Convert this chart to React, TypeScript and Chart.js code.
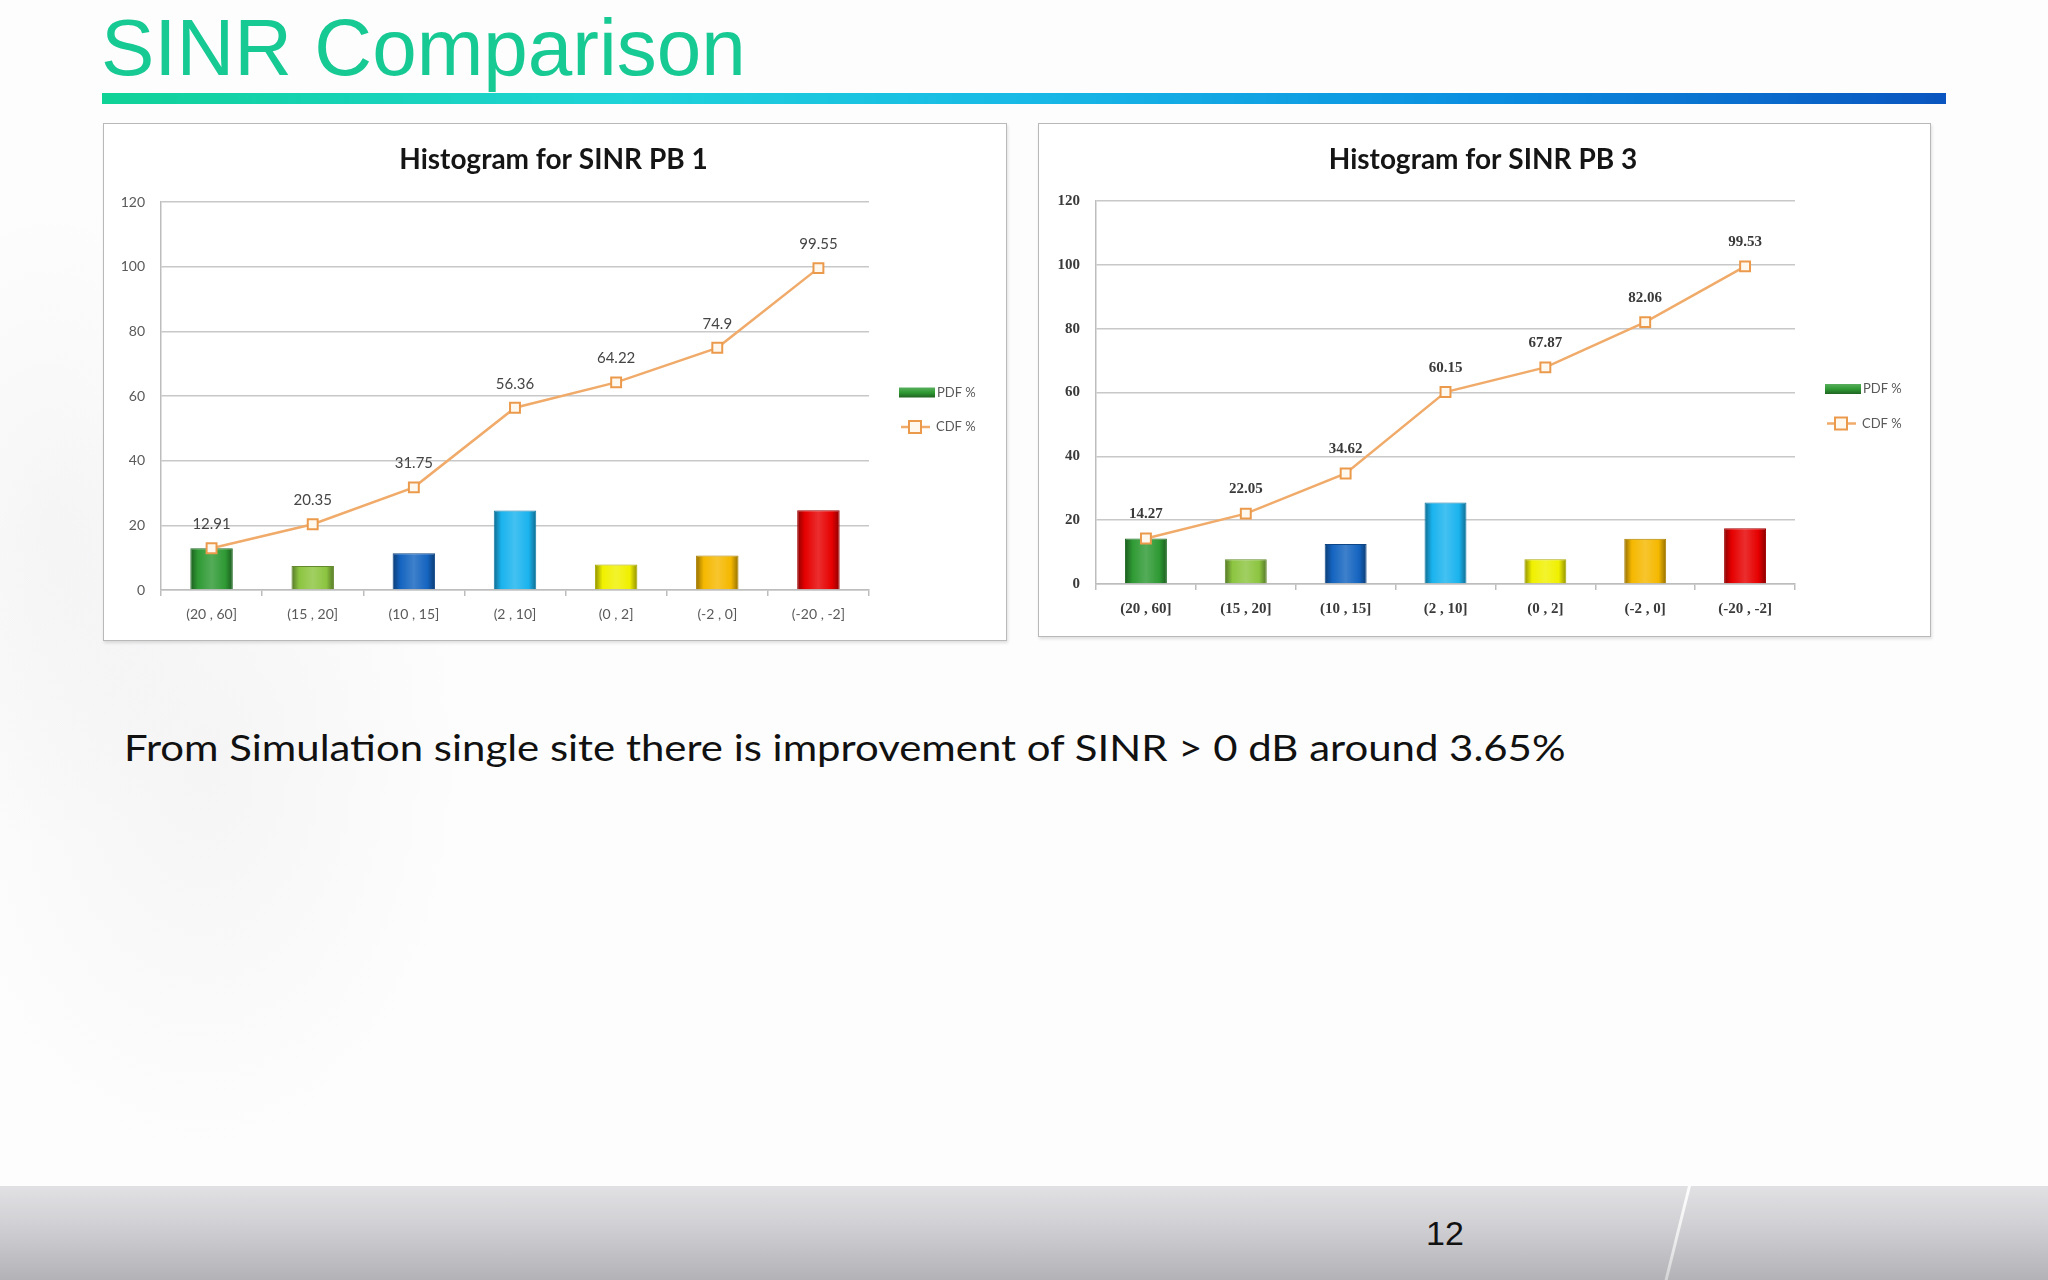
import React, { useEffect, useRef } from 'react';
import { Chart, registerables } from 'chart.js';

Chart.register(...registerables);

// ---------- data ----------
const categories = ['(20 , 60]', '(15 , 20]', '(10 , 15]', '(2 , 10]', '(0 , 2]', '(-2 , 0]', '(-20 , -2]'];
const pb1Pdf = [12.91, 7.44, 11.4, 24.61, 7.86, 10.68, 24.65];
const pb1Cdf = [12.91, 20.35, 31.75, 56.36, 64.22, 74.9, 99.55];
const pb3Pdf = [14.27, 7.78, 12.57, 25.53, 7.72, 14.19, 17.47];
const pb3Cdf = [14.27, 22.05, 34.62, 60.15, 67.87, 82.06, 99.53];
const seriesNames = ['PDF %', 'CDF %'];
const yMin = 0;
const yMax = 120;
const yStep = 20;
const barColors = ['#2f9a34', '#8cc540', '#1464c0', '#1ab3ee', '#f0f000', '#f5b800', '#e60000'];
const lineColor = '#f0ab6a';
const markerColor = '#eb9a4c';
const BAR_PCT = 0.42;

function shade(hex: string, f: number): string {
  const n = parseInt(hex.slice(1), 16);
  let r = (n >> 16) & 255;
  let g = (n >> 8) & 255;
  let b = n & 255;
  if (f < 0) {
    r = r * (1 + f);
    g = g * (1 + f);
    b = b * (1 + f);
  } else {
    r = r + (255 - r) * f;
    g = g + (255 - g) * f;
    b = b + (255 - b) * f;
  }
  return `rgb(${Math.round(r)},${Math.round(g)},${Math.round(b)})`;
}

function barFill(ctx: any) {
  const base = barColors[ctx.dataIndex] ?? barColors[0];
  const chart = ctx.chart;
  const xs = chart.scales && chart.scales.x;
  if (ctx.type !== 'data' || !xs || !chart.chartArea) return base;
  const cx = xs.getPixelForValue(ctx.dataIndex);
  const half = ((xs.width / categories.length) * BAR_PCT) / 2;
  const g = chart.ctx.createLinearGradient(cx - half, 0, cx + half, 0);
  g.addColorStop(0, shade(base, -0.4));
  g.addColorStop(0.18, base);
  g.addColorStop(0.5, shade(base, 0.18));
  g.addColorStop(0.82, base);
  g.addColorStop(1, shade(base, -0.4));
  return g;
}

type Cfg = {
  title: string;
  pdf: number[];
  cdf: number[];
  width: number;
  height: number;
  padRight: number;
  padTop: number;
  yWidth: number;
  xHeight: number;
  titleY: number;
  tickFont: any;
  tickColor: string;
  labelFont: string;
  labelColor: string;
};

function HistChart({ cfg }: { cfg: Cfg }) {
  const ref = useRef<HTMLCanvasElement>(null);
  useEffect(() => {
    if (!ref.current) return;
    const decor = {
      id: 'decor',
      afterDatasetsDraw(chart: any) {
        const { ctx, chartArea } = chart;
        const meta = chart.getDatasetMeta(1);
        const ds = chart.data.datasets;
        ctx.save();
        // data labels
        ctx.font = cfg.labelFont;
        ctx.fillStyle = cfg.labelColor;
        ctx.textAlign = 'center';
        ctx.textBaseline = 'middle';
        meta.data.forEach((pt: any, i: number) => {
          ctx.fillText(String(ds[1].data[i]), pt.x, pt.y - 24);
        });
        // title
        ctx.font = 'bold 28px Lato';
        ctx.fillStyle = '#151515';
        ctx.fillText(cfg.title, chart.width / 2, cfg.titleY);
        // legend
        const lx = chartArea.right + 30;
        const my = (chartArea.top + chartArea.bottom) / 2;
        const y1 = my - 3.5;
        const y2 = my + 31;
        const g = ctx.createLinearGradient(0, y1 - 5, 0, y1 + 5);
        g.addColorStop(0, shade(barColors[0], 0.2));
        g.addColorStop(0.5, barColors[0]);
        g.addColorStop(1, shade(barColors[0], -0.35));
        ctx.fillStyle = g;
        ctx.fillRect(lx, y1 - 5, 36, 10);
        ctx.font = '13px Lato';
        ctx.fillStyle = '#595959';
        ctx.textAlign = 'left';
        ctx.fillText(ds[0].label, lx + 38, y1);
        ctx.strokeStyle = lineColor;
        ctx.lineWidth = 2.5;
        ctx.beginPath();
        ctx.moveTo(lx + 2, y2);
        ctx.lineTo(lx + 31, y2);
        ctx.stroke();
        ctx.fillStyle = '#fff8ee';
        ctx.lineWidth = 2;
        ctx.strokeStyle = markerColor;
        ctx.fillRect(lx + 10, y2 - 6, 12, 12);
        ctx.strokeRect(lx + 10, y2 - 6, 12, 12);
        ctx.fillStyle = '#595959';
        ctx.fillText(ds[1].label, lx + 37, y2);
        ctx.restore();
      },
    };
    const chart = new Chart(ref.current, {
      type: 'bar',
      data: {
        labels: categories,
        datasets: [
          {
            type: 'bar',
            label: seriesNames[0],
            data: cfg.pdf,
            backgroundColor: barFill as any,
            borderColor: barColors.map((c) => shade(c, -0.3)),
            borderWidth: 1,
            barPercentage: BAR_PCT,
            categoryPercentage: 1,
            order: 2,
          },
          {
            type: 'line',
            label: seriesNames[1],
            data: cfg.cdf,
            borderColor: lineColor,
            borderWidth: 2.5,
            pointStyle: 'rect',
            pointRadius: 7,
            pointBackgroundColor: '#fff8ee',
            pointBorderColor: markerColor,
            pointBorderWidth: 2,
            tension: 0,
            order: 1,
          },
        ],
      },
      options: {
        responsive: false,
        animation: false,
        devicePixelRatio: 1,
        layout: { padding: { left: 0, right: cfg.padRight, top: cfg.padTop, bottom: 0 } },
        plugins: {
          legend: { display: false },
          title: { display: false },
          tooltip: { enabled: false },
        },
        scales: {
          x: {
            offset: true,
            grid: {
              offset: true,
              drawOnChartArea: false,
              drawTicks: true,
              tickLength: 6,
              color: '#bdbdbd',
              lineWidth: 1.5,
            },
            border: { display: true, color: '#bdbdbd', width: 1.5 },
            ticks: { font: cfg.tickFont, color: cfg.tickColor, padding: 10, maxRotation: 0, autoSkip: false },
            afterFit: (s: any) => {
              s.height = cfg.xHeight;
            },
          },
          y: {
            min: yMin,
            max: yMax,
            ticks: { stepSize: yStep, font: cfg.tickFont, color: cfg.tickColor, padding: 16 },
            grid: { color: '#c8c8c8', lineWidth: 1.5, drawTicks: false },
            border: { display: true, color: '#bdbdbd', width: 1.5 },
            afterFit: (s: any) => {
              s.width = cfg.yWidth;
            },
          },
        },
      },
      plugins: [decor],
    });
    return () => chart.destroy();
  }, []);
  return <canvas ref={ref} width={cfg.width} height={cfg.height} style={{ display: 'block', width: cfg.width, height: cfg.height }} />;
}

const chart1: Cfg = {
  title: 'Histogram for SINR PB 1',
  pdf: pb1Pdf,
  cdf: pb1Cdf,
  width: 899,
  height: 513,
  padRight: 134,
  padTop: 78,
  yWidth: 57,
  xHeight: 47,
  titleY: 36,
  tickFont: { family: 'Lato', size: 14 },
  tickColor: '#5a5a5a',
  labelFont: '15px Lato',
  labelColor: '#454545',
};

const chart2: Cfg = {
  title: 'Histogram for SINR PB 3',
  pdf: pb3Pdf,
  cdf: pb3Cdf,
  width: 888,
  height: 509,
  padRight: 132,
  padTop: 77,
  yWidth: 57,
  xHeight: 49,
  titleY: 36,
  tickFont: { family: 'Liberation Serif', size: 15, weight: 'bold' },
  tickColor: '#3a3a3a',
  labelFont: 'bold 15px "Liberation Serif"',
  labelColor: '#3a3a3a',
};

const boxStyle = (left: number, top: number, w: number, h: number): React.CSSProperties => ({
  position: 'absolute',
  left,
  top,
  width: w,
  height: h,
  border: '1.5px solid #b9b9b9',
  background: '#ffffff',
  boxShadow: '1px 2px 3px rgba(0,0,0,0.12)',
});

export default function App() {
  return (
    <div
      style={{
        position: 'absolute',
        left: 0,
        top: 0,
        width: 2048,
        height: 1280,
        overflow: 'hidden',
        background:
          'radial-gradient(ellipse 380px 560px at 200px 760px, rgba(220,220,224,0.25), rgba(255,255,255,0) 70%), radial-gradient(ellipse 260px 460px at 50px 520px, rgba(225,225,228,0.25), rgba(255,255,255,0) 70%), #fdfdfd',
      }}
    >
      <div
        style={{
          position: 'absolute',
          left: 101,
          top: 8,
          fontFamily: '"Liberation Sans", Arial, sans-serif',
          fontSize: 80,
          lineHeight: '80px',
          color: '#17c993',
          whiteSpace: 'nowrap',
        }}
      >
        SINR Comparison
      </div>
      <div
        style={{
          position: 'absolute',
          left: 102,
          top: 93,
          width: 1844,
          height: 11,
          background: 'linear-gradient(90deg, #0fd296 0%, #1ed3d8 28%, #18b9e6 50%, #0a8ee0 75%, #0a55bf 100%)',
        }}
      />
      <div style={boxStyle(103, 123, 902, 516)}>
        <HistChart cfg={chart1} />
      </div>
      <div style={boxStyle(1038, 123, 891, 512)}>
        <HistChart cfg={chart2} />
      </div>
      <div
        style={{
          position: 'absolute',
          left: 124,
          top: 722,
          fontFamily: 'Lato, "Open Sans", sans-serif',
          fontSize: 36,
          lineHeight: '50px',
          color: '#111',
          whiteSpace: 'nowrap',
          transform: 'scaleX(1.164)',
          transformOrigin: 'left center',
        }}
      >
        From Simulation single site there is improvement of SINR &gt; 0 dB around 3.65%
      </div>
      <div
        style={{
          position: 'absolute',
          left: 0,
          top: 1186,
          width: 2048,
          height: 94,
          background: 'linear-gradient(180deg, #e1e0e3 0%, #cfced2 45%, #b3b2b6 100%)',
        }}
      />
      <div
        style={{
          position: 'absolute',
          left: 1688,
          top: 1186,
          width: 3,
          height: 100,
          background: 'linear-gradient(180deg, rgba(255,255,255,0.95), rgba(255,255,255,0.4))',
          transform: 'skewX(-14deg)',
          transformOrigin: 'top left',
        }}
      />
      <div
        style={{
          position: 'absolute',
          left: 1426,
          top: 1213,
          fontFamily: '"Liberation Sans", Arial, sans-serif',
          fontSize: 34,
          lineHeight: '40px',
          color: '#111',
        }}
      >
        12
      </div>
    </div>
  );
}
